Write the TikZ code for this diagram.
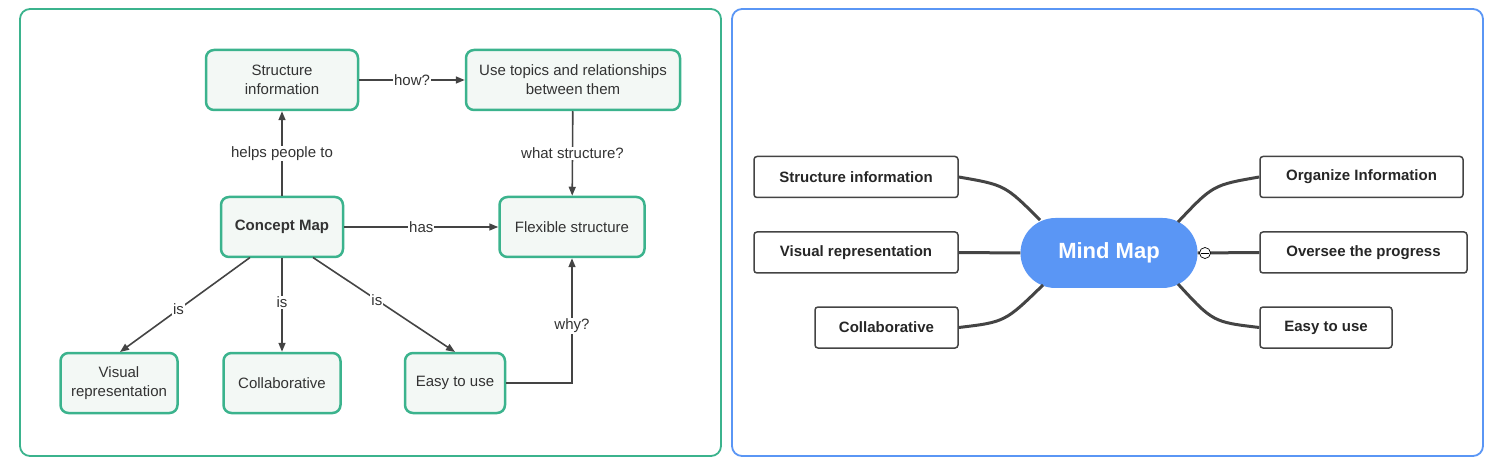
\documentclass[tikz,border=0pt]{standalone}
\usepackage{fontspec}
\setmainfont{Liberation Sans}
\usetikzlibrary{arrows.meta}
\definecolor{cgreen}{HTML}{3BB38D}
\definecolor{cfill}{HTML}{F3F8F5}
\definecolor{cblue}{HTML}{5A96F5}
\definecolor{cline}{HTML}{444444}
\begin{document}
\begin{tikzpicture}[x=1pt,y=-1pt,
  cbox/.style={draw=cgreen,fill=cfill,line width=2.5pt,rounded corners=8pt,align=center,font=\fontsize{15}{19}\selectfont,text=black!80,inner sep=0pt},
  carr/.style={draw=cline,line width=1.6pt,-{Triangle[length=9pt,width=7pt]}},
  lab/.style={fill=white,font=\fontsize{15}{18}\selectfont,text=black!80,inner sep=1pt},
  mbox/.style={draw=cline,line width=1.5pt,rounded corners=3pt,font=\bfseries\fontsize{15}{18}\selectfont,text=black!85,inner sep=0pt},
  mline/.style={draw=cline,line width=3pt}]
\useasboundingbox (0,0) rectangle (1500,465);
\draw[cgreen,line width=1.8pt,rounded corners=10pt] (20,9) rectangle (721,456);
\draw[cblue,line width=1.8pt,rounded corners=10pt] (732,9) rectangle (1483,456);
% concept map
\node[cbox,minimum width=152pt,minimum height=60pt] (si) at (282,80) {Structure\\information};
\node[cbox,minimum width=214pt,minimum height=60pt] (ut) at (573,80) {Use topics and relationships\\between them};
\node[cbox,minimum width=122pt,minimum height=60pt,font=\bfseries\fontsize{15}{19}\selectfont] (cm) at (282,227) {Concept Map};
\node[cbox,minimum width=145pt,minimum height=60pt] (fs) at (572,227) {Flexible structure};
\node[cbox,minimum width=117pt,minimum height=60pt] (vr) at (119,383) {Visual\\representation};
\node[cbox,minimum width=117pt,minimum height=60pt] (co) at (282,383) {Collaborative};
\node[cbox,minimum width=100pt,minimum height=60pt] (eu) at (455,383) {Easy to use};
\coordinate (c1) at (250,257.5); \coordinate (c2) at (313,257.5);
\coordinate (v1) at (120,352); \coordinate (e1) at (455,352);
\draw[carr] (cm) -- node[lab]{helps people to} (si);
\draw[carr] (si) -- node[lab]{how?} (ut);
\draw[carr] (ut) -- node[lab]{what structure?} (fs);
\draw[carr] (cm) -- node[lab]{has} (fs);
\draw[carr] (c1) -- node[lab,pos=0.55]{is} (v1);
\draw[carr] (cm) -- node[lab,pos=0.47]{is} (co);
\draw[carr] (c2) -- node[lab,pos=0.45]{is} (e1);
\draw[carr] (eu.east) -| node[lab,pos=0.73]{why?} (fs.south);
% mind map
\node[fill=cblue,rounded corners=35pt,minimum width=177pt,minimum height=70pt,font=\bfseries\fontsize{22}{26}\selectfont,text=white,inner sep=0pt] (mm) at (1109,253) {Mind Map};
\node[mbox,minimum width=204pt,minimum height=41pt] (l1) at (856,177) {Structure information};
\node[mbox,minimum width=204pt,minimum height=41pt] (l2) at (856,252.5) {Visual representation};
\node[mbox,minimum width=143pt,minimum height=41pt] (l3) at (886.5,327.5) {Collaborative};
\node[mbox,minimum width=203pt,minimum height=41pt] (r1) at (1361.5,177) {Organize Information};
\node[mbox,minimum width=207pt,minimum height=41pt] (r2) at (1363.5,252.5) {Oversee the progress};
\node[mbox,minimum width=132pt,minimum height=41pt] (r3) at (1326,327.5) {Easy to use};
\coordinate (a1) at (1040,220); \coordinate (a3) at (1043,285);
\coordinate (b1) at (1178,222); \coordinate (b3) at (1178,284);
\draw[mline] (a1) .. controls (1005,185) .. (l1.east);
\draw[mline] (mm.west) -- (l2.east);
\draw[mline] (a3) .. controls (1005,322) .. (l3.east);
\draw[mline] (b1) .. controls (1213,185) .. (r1.west);
\draw[mline] (mm.east) -- (r2.west);
\draw[mline] (b3) .. controls (1213,322) .. (r3.west);
\node[draw=black,fill=white,circle,line width=0.7pt,minimum size=11pt,inner sep=0pt] (cc) at (1205,253) {};
\draw[line width=0.8pt] (1201,253) -- (1209,253);
\end{tikzpicture}
\end{document}
